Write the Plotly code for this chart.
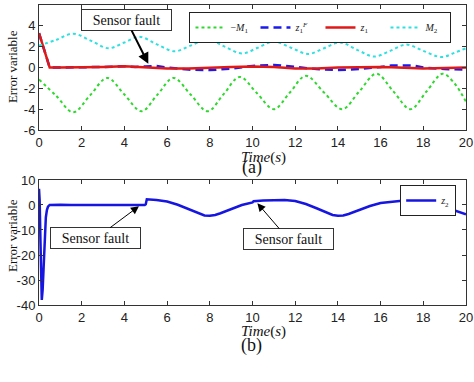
import plotly.graph_objects as go

# ---------------- data ----------------
t_m1 = [0, 0.8, 1.6, 2.4, 3.2, 4.0, 4.8, 5.55, 6.3, 7.1, 7.9, 8.65, 9.4, 10.2, 11.0,
        11.75, 12.5, 13.35, 14.2, 15.0, 15.8, 16.6, 17.4, 18.15, 18.9, 19.45, 20]
neg_m1 = [-1.15, -2.7, -4.3, -2.65, -1.0, -2.6, -4.2, -2.6, -1.0, -2.6, -4.2, -2.55, -0.9, -2.45, -4.0,
          -2.4, -0.8, -2.4, -4.0, -2.3, -0.6, -2.3, -4.0, -2.3, -0.6, -1.5, -3.3]

t_m2 = [0, 0.8, 1.6, 2.45, 3.25, 4.0, 4.7, 5.5, 6.35, 7.1, 7.9, 8.7, 9.5, 10.25, 11.0,
        11.8, 12.6, 13.35, 14.1, 14.9, 15.7, 16.45, 17.2, 18.0, 18.85, 19.45, 20]
m2 = [2.1, 2.65, 3.25, 2.55, 1.85, 2.4, 2.95, 2.25, 1.55, 2.1, 2.7, 2.0, 1.35, 1.9, 2.5,
      1.9, 1.3, 1.85, 2.4, 1.7, 1.05, 1.6, 2.2, 1.6, 1.0, 1.4, 1.85]

t_z1 = [0, 0.5, 1, 2, 3, 4, 4.5, 5, 5.5, 6, 7, 8, 9, 10, 11, 12, 13, 14, 15, 16, 16.5, 17, 17.5, 18, 19, 20]
z1 = [3.3, 0, 0, 0, 0.05, 0.12, 0.05, 0, -0.05, -0.1, -0.1, 0, 0.05, 0.1, 0.05, -0.1, -0.1, 0, 0.05,
      0.05, 0.02, 0, -0.05, -0.1, -0.05, 0]
z1f = [3.3, 0, 0, 0, 0.05, 0.12, 0.05, 0.1, 0.15, 0, -0.2, -0.25, -0.1, 0.15, 0.25, 0.05, -0.15, -0.25,
       -0.15, 0.05, 0.2, 0.2, 0.2, 0, -0.15, -0.2]

t_z2 = [0, 0.03, 0.07, 0.1, 0.13, 0.17, 0.22, 0.27, 0.32, 0.37, 0.42, 0.5, 0.8, 1, 1.5, 2, 2.5, 3,
        3.5, 4, 4.5, 4.95, 5.0, 5.05, 5.5, 6, 6.5, 7, 7.25, 7.5, 7.75, 8, 8.25, 8.5, 9, 9.5, 10,
        10.05, 10.5, 11, 11.5, 12, 12.5, 13, 13.25, 13.5, 13.75, 14, 14.25, 14.5, 15, 15.5, 16,
        16.5, 17, 17.5, 18, 18.5, 19, 19.5, 20]
z2 = [6.5, 2, -15, -30, -38, -34, -22, -12, -5, -2, -0.7, 0, 0.1, 0.1, 0, 0, -0.1, -0.2,
      -0.2, -0.2, -0.1, 0, 0.3, 2.3, 2.0, 1.4, 0.1, -1.6, -2.7, -3.6, -4.2, -4.3, -4.0, -3.3, -1.6, 0, 1.0,
      1.5, 1.8, 2.0, 2.0, 1.6, 0.4, -1.3, -2.3, -3.3, -4.0, -4.3, -4.2, -3.6, -2.0, -0.4, 0.8,
      1.4, 1.7, 1.8, 1.6, 0.6, -0.8, -2.3, -3.7]

x_ticks = [0, 2, 4, 6, 8, 10, 12, 14, 16, 18, 20]
y1_ticks = [-6, -4, -2, 0, 2, 4, 6]
y1_text = ["-6", "-4", "-2", "0", "2", "4", "6"]
y2_ticks = [-40, -30, -20, -10, 0, 10]
y2_text = ["-40", "-30", "-20", "-10", "0", "10"]

# ---------------- figure ----------------
SERIF = "Liberation Serif, Times New Roman, serif"
SANS = "Liberation Sans, Arial, sans-serif"

fig = go.Figure()
fig.add_trace(go.Scatter(x=t_m1, y=neg_m1, mode="lines", name="−<i>M</i><sub>1</sub>",
                         line=dict(color="#2ed82e", width=2, dash="dot", shape="spline"),
                         xaxis="x", yaxis="y", legend="legend"))
fig.add_trace(go.Scatter(x=t_z1, y=z1f, mode="lines", name="<i>z</i><sub>1</sub><sup><i>F</i></sup>",
                         line=dict(color="#1a1aee", width=2.5, dash="8px,5px"),
                         xaxis="x", yaxis="y", legend="legend"))
fig.add_trace(go.Scatter(x=t_z1, y=z1, mode="lines", name="<i>z</i><sub>1</sub>",
                         line=dict(color="#e01818", width=2.5),
                         xaxis="x", yaxis="y", legend="legend"))
fig.add_trace(go.Scatter(x=t_m2, y=m2, mode="lines", name="<i>M</i><sub>2</sub>",
                         line=dict(color="#2ee0e0", width=2, dash="dot", shape="spline"),
                         xaxis="x", yaxis="y", legend="legend"))
fig.add_trace(go.Scatter(x=t_z2, y=z2, mode="lines", name="<i>z</i><sub>2</sub>",
                         line=dict(color="#1616e0", width=2.5),
                         xaxis="x2", yaxis="y2", legend="legend2"))

axis_common = dict(showgrid=False, zeroline=False, showline=True, mirror="ticks",
                   linecolor="#333333", linewidth=1, ticks="inside", ticklen=4,
                   tickcolor="#333333", automargin=False,
                   tickfont=dict(family=SANS, size=13, color="#222222"))

fig.update_layout(
    width=474, height=382,
    margin=dict(l=39, r=8, t=5, b=77, autoexpand=False),
    paper_bgcolor="white", plot_bgcolor="white",
    showlegend=True,
    xaxis=dict(domain=[0, 1], anchor="y", range=[0, 20], tickvals=x_ticks, **axis_common),
    yaxis=dict(domain=[0.5833, 1], anchor="x", range=[-6, 6], tickvals=y1_ticks,
               ticktext=y1_text, **axis_common),
    xaxis2=dict(domain=[0, 1], anchor="y2", range=[0, 20], tickvals=x_ticks, **axis_common),
    yaxis2=dict(domain=[0, 0.4167], anchor="x2", range=[-40, 10], tickvals=y2_ticks,
                ticktext=y2_text, **axis_common),
    legend=dict(orientation="h", x=0.966, xanchor="right", y=0.977, yanchor="top",
                bgcolor="white", bordercolor="#222222", borderwidth=1,
                font=dict(family=SERIF, size=10, color="#222222"),
                itemwidth=30, tracegroupgap=0, entrywidth=20),
    legend2=dict(x=0.977, xanchor="right", y=0.40, yanchor="top",
                 bgcolor="white", bordercolor="#222222", borderwidth=1,
                 font=dict(family=SERIF, size=10, color="#222222"), itemwidth=30,
                 tracegroupgap=0),
)

annotations = [
    dict(text="Error variable", xref="paper", yref="paper", x=-0.0632, y=0.793,
         textangle=-90, xanchor="center", yanchor="middle",
         font=dict(family=SERIF, size=13, color="#111111"), showarrow=False),
    dict(text="Error variable", xref="paper", yref="paper", x=-0.0632, y=0.23,
         textangle=-90, xanchor="center", yanchor="middle",
         font=dict(family=SERIF, size=13, color="#111111"), showarrow=False),
    dict(text="<i>Time</i>(<i>s</i>)", xref="paper", yref="paper", x=0.5246, y=0.4933,
         xanchor="center", yanchor="middle",
         font=dict(family=SERIF, size=15, color="#111111"), showarrow=False),
    dict(text="(a)", xref="paper", yref="paper", x=0.4988, y=0.46,
         xanchor="center", yanchor="middle",
         font=dict(family=SERIF, size=18, color="#111111"), showarrow=False),
    dict(text="<i>Time</i>(<i>s</i>)", xref="paper", yref="paper", x=0.5246, y=-0.0867,
         xanchor="center", yanchor="middle",
         font=dict(family=SERIF, size=15, color="#111111"), showarrow=False),
    dict(text="(b)", xref="paper", yref="paper", x=0.4988, y=-0.136,
         xanchor="center", yanchor="middle",
         font=dict(family=SERIF, size=18, color="#111111"), showarrow=False),
]

box = dict(bgcolor="white", bordercolor="#333333", borderwidth=1, borderpad=1,
           width=87, height=18, font=dict(family=SERIF, size=14, color="#111111"),
           showarrow=True, arrowcolor="black", arrowhead=2, standoff=0)
annotations.append(dict(text="Sensor fault", xref="x", yref="y", x=5.12, y=0.35,
                        ax=-22, ay=-44, arrowwidth=2, arrowsize=1.1, **box))
annotations.append(dict(text="Sensor fault", xref="x2", yref="y2", x=4.68, y=-0.5,
                        ax=-43, ay=32, arrowwidth=1, arrowsize=1.6, **box))
annotations.append(dict(text="Sensor fault", xref="x2", yref="y2", x=10.23, y=0.7,
                        ax=31, ay=36, arrowwidth=1, arrowsize=1.6, **box))
fig.update_layout(annotations=annotations)

fig.write_html("out.html", config={"displayModeBar": False},
               post_script="document.body.style.margin='0';document.body.style.padding='0';")
